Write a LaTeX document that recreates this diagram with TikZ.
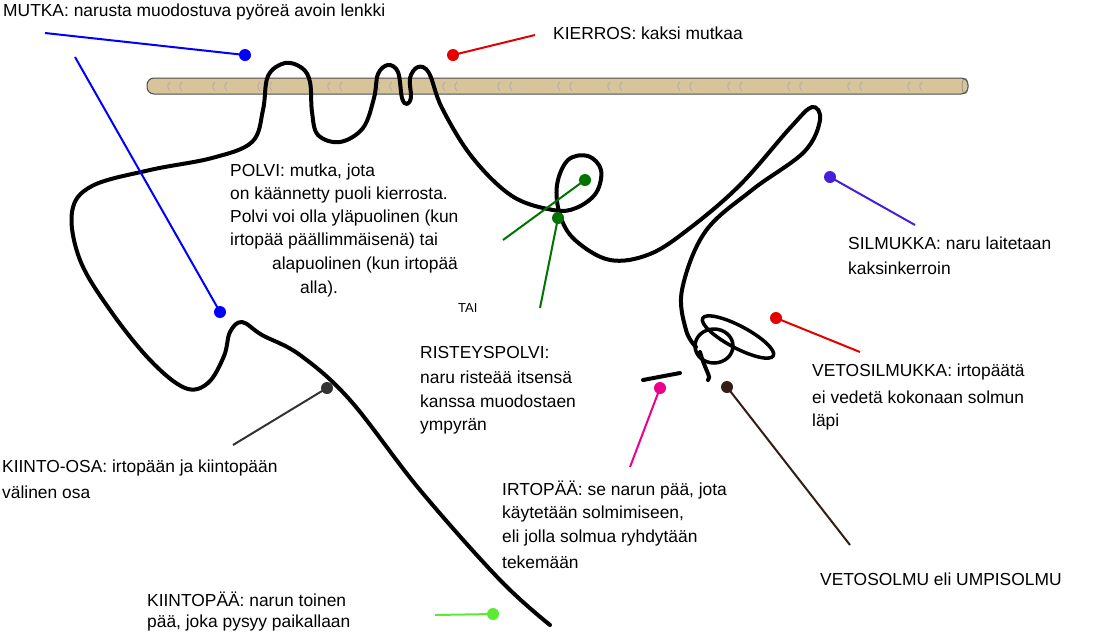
\documentclass[tikz,border=0pt]{standalone}
\usepackage{fontspec}
\setmainfont{Liberation Sans}
\definecolor{rodc}{RGB}{216,196,155}
\definecolor{violc}{RGB}{70,30,220}
\definecolor{brownc}{RGB}{50,30,20}
\definecolor{lgreen}{RGB}{90,235,50}
\begin{document}
\begin{tikzpicture}[x=1pt,y=-1pt,
  lbl/.style={anchor=west,inner sep=0pt,font=\fontsize{17.4}{20}\selectfont},
  rope/.style={line width=4pt,line cap=round,line join=round},
  lead/.style={line width=2pt},
  dot/.style={circle,fill,inner sep=0pt,minimum size=12pt}]
\useasboundingbox (0,0) rectangle (1116,641);
% rod
\draw[fill=rodc,draw=black!70,line width=1pt,rounded corners=7pt] (147,78) rectangle (968,94);
\draw[black!60] (965,86) ellipse (3 and 8);
\foreach \x in {170,215,260,330,380,445,500,560,610,680,730,790,850,910}{
  \draw[black!35,line width=0.6pt] (\x,82) .. controls (\x-3,86) .. (\x,91);
  \draw[black!35,line width=0.6pt] (\x+12,82) .. controls (\x+9,86) .. (\x+12,91);}
% rope
\draw[rope] plot[smooth,tension=0.6] coordinates {(550,625) (500,580) (420,490) (350,400) (300,355) (262,335) (242,322) (230,332) (224,356) (208,383) (185,388) (150,360) (110,310) (80,260) (72,212) (92,186) (150,170) (212,158) (252,142) (263,110) (268,76) (285,63) (302,68) (310,82) (312,112) (318,135) (340,142) (363,128) (374,98) (378,74) (388,65) (398,72) (402,98) (407,104) (411,97) (410,78) (418,67) (429,73) (442,108) (472,157) (512,196) (553,210) (576,208) (596,193) (601,170) (588,156) (568,160) (557,185) (560,215) (575,240) (610,260) (650,254) (690,228) (740,185) (790,128) (812,107) (820,120) (804,152) (752,190) (705,232) (682,290) (686,330) (696,347)};
\draw[rope,line width=3.5pt] (714,346) ellipse (19 and 17);
\draw[rope,line width=3.5pt,rotate around={-28:(738,337)}] (738,337) ellipse (40 and 11);
\draw[rope] (700,352) .. controls (705,370) and (712,378) .. (708,380);
\draw[rope] (643,380) -- (680,373);
% leaders
\draw[lead,blue] (45,33) -- (245,55) node[dot] (d1) {};
\draw[lead,blue] (75,57) -- (220,312) node[dot] (d2) {};
\draw[lead,red!90!black] (535,35) -- (453,55) node[dot] (d3) {};
\draw[lead,green!45!black] (503,240) -- (585,180) node[dot] (d4) {};
\draw[lead,green!45!black] (540,308) -- (558,218) node[dot] (d5) {};
\draw[lead,violc] (915,225) -- (830,177) node[dot] (d6) {};
\draw[lead,red!90!black] (860,352) -- (776,318) node[dot] (d7) {};
\draw[lead,magenta] (630,467) -- (660,388) node[dot] (d8) {};
\draw[lead,brownc] (850,545) -- (727,387) node[dot] (d9) {};
\draw[lead,black!80] (233,445) -- (327,388) node[dot] (d10) {};
\draw[lead,lgreen] (435,615) -- (493,614) node[dot] (d11) {};
% labels
\node[lbl] (t1) at (3,12) {MUTKA: narusta muodostuva pyöreä avoin lenkki};
\node[lbl] (t2) at (553,33) {KIERROS: kaksi mutkaa};
\node[lbl] (p1) at (230,172) {POLVI: mutka, jota};
\node[lbl] (p2) at (230,195) {on käännetty puoli kierrosta.};
\node[lbl] (p3) at (230,218) {Polvi voi olla yläpuolinen (kun};
\node[lbl] (p4) at (230,241) {irtopää päällimmäisenä) tai};
\node[lbl] (p5) at (272,265) {alapuolinen (kun irtopää};
\node[lbl] (p6) at (300,289) {alla).};
\node[lbl,font=\fontsize{13}{15}\selectfont] (tai) at (458,308) {TAI};
\node[lbl] (r1) at (420,353) {RISTEYSPOLVI:};
\node[lbl] (r2) at (420,377) {naru risteää itsensä};
\node[lbl] (r3) at (420,401) {kanssa muodostaen};
\node[lbl] (r4) at (420,426) {ympyrän};
\node[lbl] (s1) at (848,243) {SILMUKKA: naru laitetaan};
\node[lbl] (s2) at (848,268) {kaksinkerroin};
\node[lbl] (v1) at (812,372) {VETOSILMUKKA: irtopäätä};
\node[lbl] (v2) at (812,397) {ei vedetä kokonaan solmun};
\node[lbl] (v3) at (812,422) {läpi};
\node[lbl] (k1) at (2,468) {KIINTO-OSA: irtopään ja kiintopään};
\node[lbl] (k2) at (2,492) {välinen osa};
\node[lbl] (i1) at (502,490) {IRTOPÄÄ: se narun pää, jota};
\node[lbl] (i2) at (502,514) {käytetään solmimiseen,};
\node[lbl] (i3) at (502,538) {eli jolla solmua ryhdytään};
\node[lbl] (i4) at (502,562) {tekemään};
\node[lbl] (vs) at (820,579) {VETOSOLMU eli UMPISOLMU};
\node[lbl] (kp1) at (147,599) {KIINTOPÄÄ: narun toinen};
\node[lbl] (kp2) at (147,623) {pää, joka pysyy paikallaan};
\end{tikzpicture}
\end{document}
